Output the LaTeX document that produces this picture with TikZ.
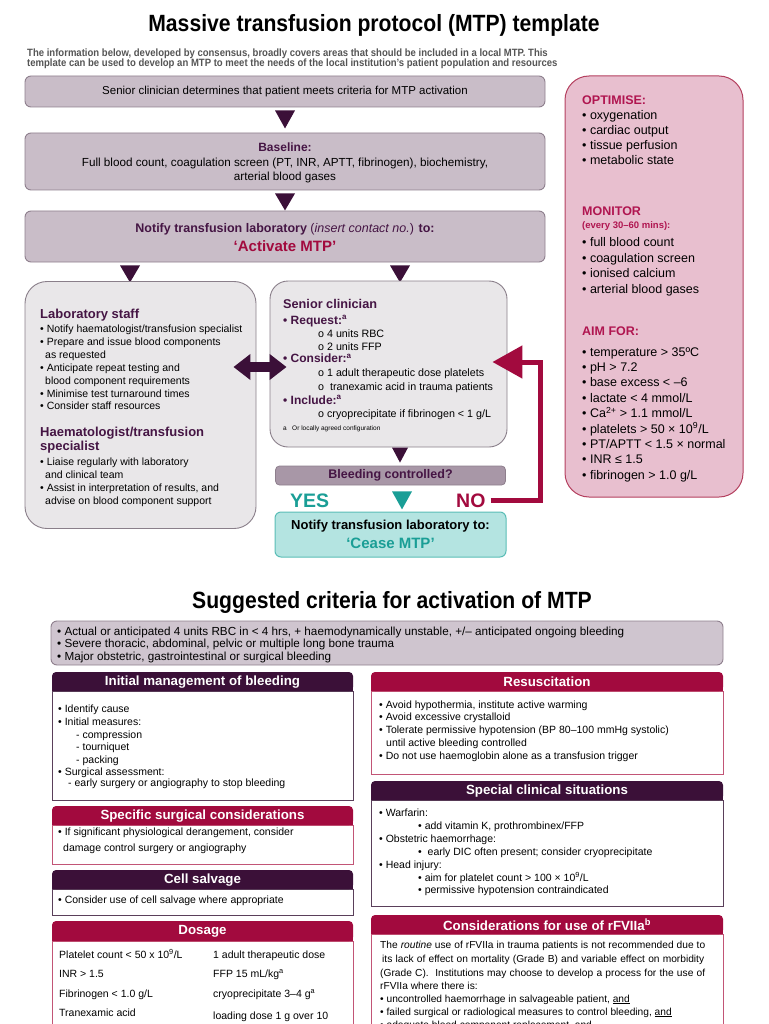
\documentclass[tikz,border=0pt]{standalone}
\usepackage{fontspec}
\setmainfont{Liberation Sans}
\newfontfamily\narrowfont[FakeStretch=0.9]{Liberation Sans}
\newfontfamily\intrfont[FakeStretch=0.9]{Liberation Sans}
\usetikzlibrary{arrows.meta,calc}

\definecolor{mdark}{HTML}{3B1038}
\definecolor{mcrim}{HTML}{A20A3E}
\definecolor{mtxt}{HTML}{451544}
\definecolor{flowfill}{HTML}{C9BDC8}
\definecolor{flowline}{HTML}{8E7F8D}
\definecolor{labfill}{HTML}{E9E7E9}
\definecolor{labline}{HTML}{8A7F8A}
\definecolor{bleedfill}{HTML}{A897A7}
\definecolor{pinkfill}{HTML}{E8BFCF}
\definecolor{pinkline}{HTML}{B4405F}
\definecolor{pinktxt}{HTML}{B01550}
\definecolor{mteal}{HTML}{1A9E96}
\definecolor{cfill}{HTML}{B4E4E1}
\definecolor{cline}{HTML}{5ABDB6}
\definecolor{critfill}{HTML}{CFC5CF}
\definecolor{introgray}{HTML}{555555}
\definecolor{darkborder}{HTML}{5A3F5A}
\definecolor{crimborder}{HTML}{C25576}

\newcommand\mtpfs[1]{\fontsize{#1}{#1}\selectfont}
\newcommand\mtplines[5]{%
  \foreach \tx [count=\ii from 0] in {#5} {%
    \node[txt] (#1-\ii) at (#2,{#3+\ii*#4}) {\tx};}}
% name, x1, x2, ytop, yhead, ybot, header colour, border colour, title
\newcommand\mtpsec[9]{%
  \draw[#8,line width=1pt,fill=white] (#2,#5) rectangle (#3,#6);
  \fill[#7,rounded corners=4pt] (#2,#4) rectangle (#3,#5);
  \fill[#7] (#2,{#4+6}) rectangle (#3,#5);
  \node[font=\bfseries\mtpfs{13.3},text=white,inner sep=0pt] (#1) at ({(#2+#3)/2},{(#4+#5)/2+0.5}) {#9};}

\begin{document}
\begin{tikzpicture}[x=1pt,y=-1pt,
  txt/.style={anchor=base west,inner sep=0pt},
  ctxt/.style={anchor=base,inner sep=0pt},
  flowbox/.style={draw=flowline,fill=flowfill,rounded corners=6pt,line width=0.9pt,inner sep=0pt},
  tri/.style={fill=mdark}]
\useasboundingbox (0,0) rectangle (768,1024);
\clip (0,0) rectangle (768,1024);

% ---------- titles ----------
\node[ctxt,font=\narrowfont\bfseries\mtpfs{23.5}] (title) at (374,32) {Massive transfusion protocol (MTP) template};
\node[txt,font=\intrfont\bfseries\mtpfs{10.6},text=introgray] (intro1) at (27,56.5) {The information below, developed by consensus, broadly covers areas that should be included in a local MTP. This};
\node[txt,font=\intrfont\bfseries\mtpfs{10.6},text=introgray] (intro2) at (27,66.5) {template can be used to develop an MTP to meet the needs of the local institution’s patient population and resources};

% ---------- flow boxes ----------
\node[flowbox,minimum width=520pt,minimum height=31pt,font=\mtpfs{11.5}] (b1) at (285,91.5) {Senior clinician determines that patient meets criteria for MTP activation};
\node[flowbox,minimum width=520pt,minimum height=57pt] (b2) at (285,161.5) {};
\node[ctxt,font=\bfseries\mtpfs{12},text=mtxt] (b2-0) at (285,151.5) {Baseline:};
\node[ctxt,font=\mtpfs{11.7}] (b2-1) at (285,166.5) {Full blood count, coagulation screen (PT, INR, APTT, fibrinogen), biochemistry,};
\node[ctxt,font=\mtpfs{11.7}] (b2-2) at (285,180.5) {arterial blood gases};
\node[flowbox,minimum width=520pt,minimum height=51pt] (b3) at (285,236.5) {};
\node[ctxt,font=\mtpfs{12.5},text=mtxt] (b3-0) at (285,233) {\textbf{Notify transfusion laboratory} (\textit{insert contact no.}) \textbf{to:}};
\node[ctxt,font=\bfseries\mtpfs{15},text=mcrim] (b3-1) at (285,251.5) {‘Activate MTP’};

\fill[tri] ($(b1.south)+(-10,3)$) -- ($(b1.south)+(10,3)$) -- ($(b1.south)+(0,21)$) -- cycle;
\fill[tri] ($(b2.south)+(-10,3)$) -- ($(b2.south)+(10,3)$) -- ($(b2.south)+(0,20)$) -- cycle;
\fill[tri] ($(b3.south)+(-165,3)$) -- ($(b3.south)+(-145,3)$) -- ($(b3.south)+(-155,20)$) -- cycle;
\fill[tri] ($(b3.south)+(105,3)$) -- ($(b3.south)+(125,3)$) -- ($(b3.south)+(115,20)$) -- cycle;

% ---------- laboratory staff ----------
\node[draw=labline,fill=labfill,rounded corners=22pt,line width=0.9pt,minimum width=231pt,minimum height=247pt] (lab) at (140.5,405) {};
\node[txt,font=\bfseries\mtpfs{13},text=mtxt] (labt) at (40,318) {Laboratory staff};
\begin{scope}[font=\mtpfs{10.5}]
\mtplines{labl}{40}{332.5}{12.9}{{• Notify haematologist/transfusion specialist},{• Prepare and issue blood components},{\hspace*{5pt}as requested},{• Anticipate repeat testing and},{\hspace*{5pt}blood component requirements},{• Minimise test turnaround times},{• Consider staff resources}}
\end{scope}
\node[txt,font=\bfseries\mtpfs{13},text=mtxt] (haem1) at (40,436) {Haematologist/transfusion};
\node[txt,font=\bfseries\mtpfs{13},text=mtxt] (haem2) at (40,450) {specialist};
\begin{scope}[font=\mtpfs{10.5}]
\mtplines{haeml}{40}{465}{13}{{• Liaise regularly with laboratory},{\hspace*{5pt}and clinical team},{• Assist in interpretation of results, and},{\hspace*{5pt}advise on blood component support}}
\end{scope}

% ---------- senior clinician ----------
\node[draw=labline,fill=labfill,rounded corners=18pt,line width=0.9pt,minimum width=237pt,minimum height=166pt] (sen) at (388.5,364) {};
\node[txt,font=\bfseries\mtpfs{12.7},text=mtxt] (sent) at (283,308) {Senior clinician};
\begin{scope}[font=\bfseries\mtpfs{12},text=mtxt]
\node[txt] (req) at (283,324) {• Request:\textsuperscript{a}};
\node[txt] (con) at (283,362.5) {• Consider:\textsuperscript{a}};
\node[txt] (inc) at (283,404) {• Include:\textsuperscript{a}};
\end{scope}
\begin{scope}[font=\mtpfs{10.7}]
\mtplines{reql}{318}{337.5}{12.5}{{o 4 units RBC},{o 2 units FFP}}
\mtplines{conl}{318}{376}{14}{{o 1 adult therapeutic dose platelets},{o\ \ tranexamic acid in trauma patients}}
\node[txt] (incl) at (318,417.5) {o cryoprecipitate if fibrinogen < 1 g/L};
\end{scope}
\node[txt,font=\mtpfs{6.5}] (foot) at (283,430) {a\ \ \ Or locally agreed configuration};

% double arrow between boxes
\draw[mdark,line width=10pt,{Triangle[length=17pt,width=25pt]}-{Triangle[length=17pt,width=25pt]}] ($(lab.east|-sen.west)+(-23,3)$) -- ($(sen.west)+(17,3)$);

% ---------- bleeding controlled ----------
\node[draw=flowline,fill=bleedfill,rounded corners=4pt,line width=0.8pt,minimum width=230pt,minimum height=19pt,inner sep=0pt,font=\bfseries\mtpfs{12.5},text=mtxt] (bleed) at (390.5,475.5) {Bleeding controlled?};
\fill[tri] ($(bleed.north)+(1.5,-18)$) -- ($(bleed.north)+(17.5,-18)$) -- ($(bleed.north)+(9.5,-3)$) -- cycle;
\fill[mteal] ($(bleed.south)+(1.5,6)$) -- ($(bleed.south)+(21.5,6)$) -- ($(bleed.south)+(11.5,24)$) -- cycle;
\node[txt,font=\bfseries\mtpfs{19.5},text=mteal] (yes) at (290,507) {YES};
\node[txt,font=\bfseries\mtpfs{19.5},text=mcrim] (no) at (456,507) {NO};
\node[draw=cline,fill=cfill,rounded corners=6pt,line width=1pt,minimum width=231pt,minimum height=45pt] (cease) at (390.5,534.5) {};
\node[ctxt,font=\bfseries\mtpfs{13}] (cease-0) at (390.5,529) {Notify transfusion laboratory to:};
\node[ctxt,font=\bfseries\mtpfs{15},text=mteal] (cease-1) at (390.5,548) {‘Cease MTP’};
\draw[mcrim,line width=5pt,-{Triangle[length=30pt,width=32pt]}] ($(no.east)+(5,0)$) -| ($(sen.east)+(33,-2)$) -- ($(sen.east)+(-15,-2)$);

% ---------- pink panel ----------
\node[draw=pinkline,fill=pinkfill,rounded corners=24pt,line width=1pt,minimum width=178pt,minimum height=421pt] (pink) at (654,286.5) {};
\begin{scope}[font=\bfseries\mtpfs{12.5},text=pinktxt]
\node[txt] (opt) at (582,105) {OPTIMISE:};
\node[txt] (mon) at (582,215) {MONITOR};
\node[txt] (aim) at (582,335) {AIM FOR:};
\end{scope}
\node[txt,font=\bfseries\mtpfs{9.5},text=pinktxt] (every) at (582,228.5) {(every 30–60 mins):};
\begin{scope}[font=\mtpfs{12.5}]
\mtplines{optl}{582}{120}{15}{{• oxygenation},{• cardiac output},{• tissue perfusion},{• metabolic state}}
\mtplines{monl}{582}{246.5}{15.5}{{• full blood count},{• coagulation screen},{• ionised calcium},{• arterial blood gases}}
\mtplines{aiml}{582}{356}{15.4}{{• temperature > 35ºC},{• pH > 7.2},{• base excess < –6},{• lactate < 4 mmol/L},{• Ca\textsuperscript{2+} > 1.1 mmol/L},{• platelets > 50 × 10\textsuperscript{9}/L},{• PT/APTT < 1.5 × normal},{• INR ≤ 1.5},{• fibrinogen > 1.0 g/L}}
\end{scope}

% ---------- suggested criteria ----------
\node[ctxt,font=\narrowfont\bfseries\mtpfs{23.5}] (title2) at (392,608) {Suggested criteria for activation of MTP};
\node[draw=flowline,fill=critfill,rounded corners=6pt,line width=0.9pt,minimum width=672pt,minimum height=44pt] (crit) at (387,643) {};
\begin{scope}[font=\mtpfs{11.7}]
\mtplines{critl}{57}{635}{12.5}{{• Actual or anticipated 4 units RBC in < 4 hrs, + haemodynamically unstable, +/– anticipated ongoing bleeding},{• Severe thoracic, abdominal, pelvic or multiple long bone trauma},{• Major obstetric, gastrointestinal or surgical bleeding}}
\end{scope}

% ---------- sections ----------
\mtpsec{im}{52}{353}{672}{691}{800}{mdark}{darkborder}{Initial management of bleeding}
\mtpsec{ssc}{52}{353}{806}{825}{864}{mcrim}{crimborder}{Specific surgical considerations}
\mtpsec{cs}{52}{353}{870}{889}{915}{mdark}{darkborder}{Cell salvage}
\mtpsec{dos}{52}{353}{921}{941}{1040}{mcrim}{crimborder}{Dosage}
\mtpsec{res}{371}{723}{672}{691}{774}{mcrim}{crimborder}{Resuscitation}
\mtpsec{scs}{371}{723}{781}{800}{906}{mdark}{darkborder}{Special clinical situations}
\mtpsec{rf}{371}{723}{915}{934}{1040}{mcrim}{crimborder}{Considerations for use of rFVIIa\textsuperscript{b}}

\begin{scope}[font=\mtpfs{10.5}]
\mtplines{iml}{58}{712}{13}{{• Identify cause},{• Initial measures:}}
\mtplines{imd}{76}{738}{12.7}{{- compression},{- tourniquet},{- packing}}
\node[txt] (im-s) at (58,775.5) {• Surgical assessment:};
\node[txt] (im-e) at (68,786.5) {- early surgery or angiography to stop bleeding};
\mtplines{sscl}{58}{835}{16}{{• If significant physiological derangement, consider},{\hspace*{5pt}damage control surgery or angiography}}
\node[txt] (csl) at (58,903) {• Consider use of cell salvage where appropriate};
\mtplines{dosl}{59}{958}{19.5}{{Platelet count < 50 x 10\textsuperscript{9}/L},{INR > 1.5},{Fibrinogen < 1.0 g/L},{Tranexamic acid}}
\mtplines{dosr}{213}{958}{19.5}{{1 adult therapeutic dose},{FFP 15 mL/kg\textsuperscript{a}},{cryoprecipitate 3–4 g\textsuperscript{a}}}
\mtplines{dosx}{213}{1019}{14}{{loading dose 1 g over 10},{min, then infusion of 1 g}}
\mtplines{resl}{379}{708}{12.8}{{• Avoid hypothermia, institute active warming},{• Avoid excessive crystalloid},{• Tolerate permissive hypotension (BP 80–100 mmHg systolic)},{\hspace*{7pt}until active bleeding controlled},{• Do not use haemoglobin alone as a transfusion trigger}}
\node[txt] (scs-w) at (379,816) {• Warfarin:};
\node[txt] (scs-wa) at (418,829) {• add vitamin K, prothrombinex/FFP};
\node[txt] (scs-o) at (379,842) {• Obstetric haemorrhage:};
\node[txt] (scs-oa) at (418,855) {•\ \ early DIC often present; consider cryoprecipitate};
\node[txt] (scs-h) at (379,868) {• Head injury:};
\node[txt] (scs-ha) at (418,881) {• aim for platelet count > 100 × 10\textsuperscript{9}/L};
\node[txt] (scs-hb) at (418,893.5) {• permissive hypotension contraindicated};
\end{scope}
\begin{scope}[font=\mtpfs{10.2}]
\node[txt] (rf-0) at (380,948) {\makebox[325pt][s]{The \emph{routine} use of rFVIIa in trauma patients is not recommended due to}};
\node[txt] (rf-1) at (382,962) {\makebox[322pt][s]{its lack of effect on mortality (Grade B) and variable effect on morbidity}};
\node[txt] (rf-2) at (380,976) {\makebox[325pt][s]{(Grade C).\ \ Institutions may choose to develop a process for the use of}};
\mtplines{rfl}{380}{989}{13}{{rFVIIa where there is:},{• uncontrolled haemorrhage in salvageable patient, \underline{and}},{• failed surgical or radiological measures to control bleeding, \underline{and}},{• adequate blood component replacement, and}}
\end{scope}
\end{tikzpicture}
\end{document}
